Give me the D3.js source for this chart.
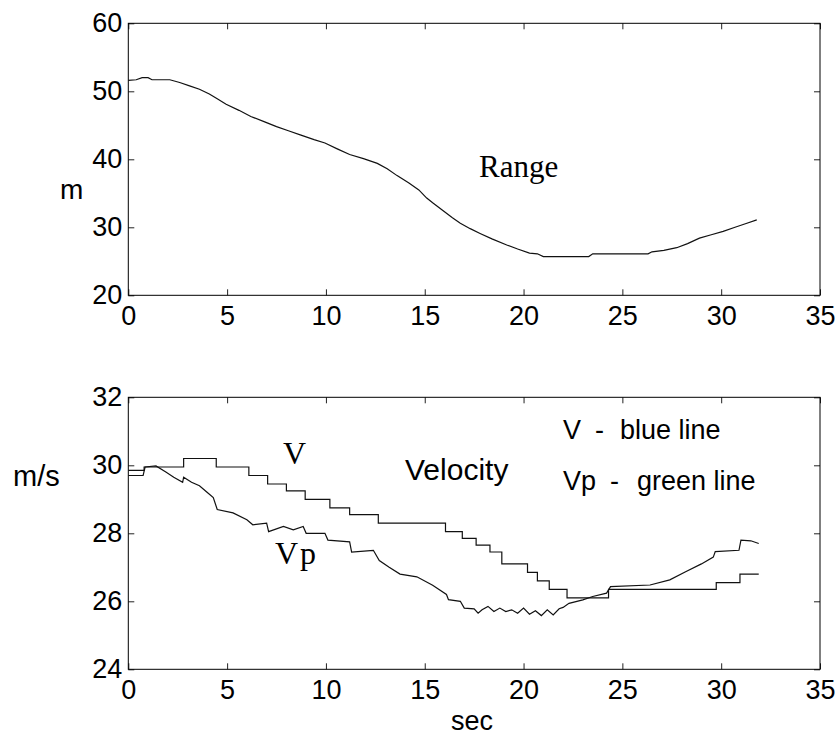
<!DOCTYPE html>
<html>
<head>
<meta charset="utf-8">
<script src="https://cdn.jsdelivr.net/npm/d3@7/dist/d3.min.js"></script>
<style>
  body { margin: 0; background: #fff; }
  text { font-family: "Liberation Sans", Arial, sans-serif; }
  .serif { font-family: "Liberation Serif", "Times New Roman", serif; }
</style>
</head>
<body>
<div class="box"></div>
<script>
// ticks
const xTicks = [0, 5, 10, 15, 20, 25, 30, 35];
const rangeTicks = [20, 30, 40, 50, 60];
const velTicks = [24, 26, 28, 30, 32];

// Range (m) vs time (sec)
const rangeTime = [0, 0.4, 0.7, 1.0, 1.2, 2.1, 2.6, 3.1, 3.6, 4.1, 4.5, 4.95, 5.6, 6.2, 6.9, 7.5, 8.1, 8.7, 9.4, 9.95,
  10.6, 11.2, 11.9, 12.6, 13.1, 13.6, 14.2, 14.7, 15.1, 15.4, 15.9, 16.4, 16.8, 17.3, 17.8, 18.4, 19.15, 19.7, 20.3, 20.7,
  21.0, 22.0, 23.3, 23.5, 26.3, 26.5, 27.1, 27.75, 28.3, 28.9, 29.5, 30.1, 30.7, 31.3, 31.8];
const rangeVal = [51.6, 51.7, 52.0, 52.0, 51.7, 51.7, 51.3, 50.8, 50.3, 49.6, 48.9, 48.1, 47.2, 46.3, 45.5, 44.8, 44.2, 43.6, 42.9, 42.4,
  41.5, 40.7, 40.1, 39.4, 38.6, 37.6, 36.5, 35.5, 34.3, 33.6, 32.5, 31.4, 30.6, 29.8, 29.1, 28.3, 27.4, 26.8, 26.2, 26.1,
  25.7, 25.7, 25.7, 26.1, 26.1, 26.4, 26.6, 27.0, 27.6, 28.4, 28.9, 29.4, 30.0, 30.6, 31.1];

// V (blue line), stepped
const vTime = [0, 0.8, 2.8, 4.45, 6.1, 7.05, 8.0, 8.95, 10.2, 11.2, 12.65, 16.05, 16.9, 17.6, 18.3, 18.9, 20.2, 20.7, 21.3, 22.2,
  24.3, 29.75, 30.95, 31.9];
const vVal = [29.85, 29.95, 30.2, 29.95, 29.7, 29.45, 29.25, 29.0, 28.75, 28.55, 28.3, 28.05, 27.85, 27.65, 27.45, 27.1, 26.85, 26.6, 26.35, 26.1,
  26.35, 26.55, 26.8, 26.8];

// Vp (green line)
const vpTime = [0, 0.75, 0.85, 1.4, 1.9, 2.3, 2.75, 2.8, 3.2, 3.6, 4.0, 4.3, 4.5, 5.3, 6.0, 6.3, 7.0, 7.1, 7.85, 8.35, 8.85, 9.0, 9.95,
  10.1, 11.2, 11.3, 12.4, 12.7, 13.2, 13.75, 14.6, 15.4, 16.1, 16.2, 16.8, 17.0, 17.5, 17.7, 17.9, 18.2, 18.5, 18.8, 19.1, 19.4,
  19.7, 20.0, 20.3, 20.6, 20.9, 21.2, 21.5, 21.8, 22.0, 22.3, 23.0, 23.5, 24.2, 24.4, 26.4, 27.4, 28.2, 29.0, 29.6, 29.7, 30.9,
  31.0, 31.5, 31.9];
const vpVal = [29.7, 29.7, 29.95, 29.98, 29.8, 29.65, 29.5, 29.65, 29.5, 29.4, 29.2, 29.05, 28.7, 28.6, 28.4, 28.25, 28.3, 28.05, 28.2, 28.1, 28.2, 28.0, 28.0,
  27.8, 27.75, 27.45, 27.5, 27.2, 27.0, 26.8, 26.72, 26.47, 26.2, 26.05, 26.0, 25.8, 25.78, 25.65, 25.75, 25.85, 25.7, 25.8, 25.7, 25.75,
  25.65, 25.8, 25.62, 25.72, 25.58, 25.75, 25.6, 25.78, 25.82, 25.94, 26.04, 26.14, 26.24, 26.43, 26.48, 26.63, 26.87, 27.1, 27.3, 27.46, 27.5,
  27.8, 27.78, 27.7];

const W = 835, H = 735;
const left = 128.3, right = 820;

const svg = d3.select('.box')
              .append('svg')
              .attr('width', W)
              .attr('height', H);

svg.append('rect').attr('width', W).attr('height', H).attr('fill', '#fff');

const x = d3.scaleLinear().domain([0, 35]).range([left, right]);

// dessine un panneau (cadre + axes)
const panel = (top, bottom, yDomain, yTicks) => {
    const y = d3.scaleLinear().domain(yDomain).range([bottom, top]);
    const g = svg.append('g');

    g.append('g')
     .attr('transform', `translate(0, ${bottom})`)
     .call(d3.axisBottom(x).tickValues(xTicks).tickSizeInner(-6).tickSizeOuter(0).tickPadding(11));

    g.append('g')
     .attr('transform', `translate(0, ${top})`)
     .call(d3.axisTop(x).tickValues(xTicks).tickSizeInner(-6).tickSizeOuter(0).tickFormat(''));

    g.append('g')
     .attr('transform', `translate(${left}, 0)`)
     .call(d3.axisLeft(y).tickValues(yTicks).tickSizeInner(-6).tickSizeOuter(0).tickPadding(6));

    g.append('g')
     .attr('transform', `translate(${right}, 0)`)
     .call(d3.axisRight(y).tickValues(yTicks).tickSizeInner(-6).tickSizeOuter(0).tickFormat(''));

    g.selectAll('.domain').remove();
    g.selectAll('.tick line').attr('stroke', '#222');
    g.selectAll('.tick text')
     .attr('fill', '#000')
     .style('font-size', '27px')
     .style('font-family', '"Liberation Sans", Arial, sans-serif');

    g.append('rect')
     .attr('x', left).attr('y', top)
     .attr('width', right - left).attr('height', bottom - top)
     .attr('fill', 'none')
     .attr('stroke', '#000')
     .attr('stroke-width', 1);

    return y;
};

const yRange = panel(23.3, 295.3, [20, 60], rangeTicks);
const yVel = panel(397.3, 669.3, [24, 32], velTicks);

const drawLine = (times, vals, y, curve) => {
    const pts = times.map((t, i) => [t, vals[i]]);
    svg.append('path')
       .datum(pts)
       .attr('fill', 'none')
       .attr('stroke', '#111')
       .attr('stroke-width', 1.2)
       .attr('d', d3.line().x(d => x(d[0])).y(d => y(d[1])).curve(curve));
};

drawLine(rangeTime, rangeVal, yRange, d3.curveLinear);
drawLine(vTime, vVal, yVel, d3.curveStepAfter);
drawLine(vpTime, vpVal, yVel, d3.curveLinear);

// textes
const label = (txt, px, py, size, cls) => {
    const t = svg.append('text')
       .attr('x', px).attr('y', py)
       .style('font-size', size + 'px')
       .attr('fill', '#000')
       .text(txt);
    if (cls) t.attr('class', cls);
    return t;
};

label('m', 60, 199, 28);
label('m/s', 13, 486, 29);
label('sec', 472, 730, 27).attr('text-anchor', 'middle');

label('Range', 479, 177, 31, 'serif');
label('V', 283, 464, 32, 'serif');
label('Vp', 275, 564, 32, 'serif').attr('letter-spacing', 2);

label('Velocity', 405, 480, 30);
label('V', 563, 439, 27);
label('-', 595, 439, 27);
label('blue line', 620, 439, 27);
label('Vp', 563, 490, 27);
label('-', 610, 490, 27);
label('green line', 637, 490, 27);
</script>
</body>
</html>
